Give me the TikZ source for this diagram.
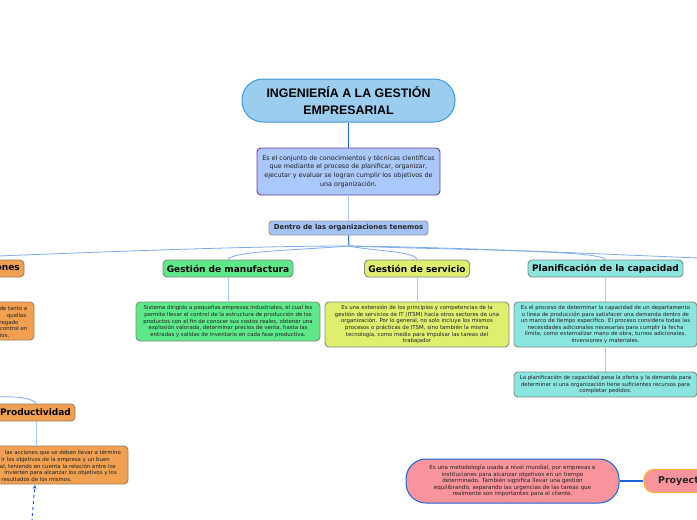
\documentclass[tikz,border=0pt]{standalone}
\usepackage{fontspec}
\usetikzlibrary{arrows.meta}
\setmainfont{DejaVu Sans}
\newfontfamily\titlefont{Liberation Sans}
\definecolor{lineblue}{HTML}{1565D8}
\definecolor{softblue}{HTML}{A9C8F5}
\definecolor{edgegray}{HTML}{7F8F7F}
\definecolor{titlefill}{HTML}{9BCEEE}
\definecolor{titleedge}{HTML}{3E9AD8}
\definecolor{descfill}{HTML}{AAC8FB}
\definecolor{descedge}{HTML}{6A3D9A}
\definecolor{withinfill}{HTML}{A4C2F4}
\definecolor{greenfill}{HTML}{5FE88A}
\definecolor{yellowfill}{HTML}{E0EE70}
\definecolor{tealfill}{HTML}{8BE5DF}
\definecolor{orangefill}{HTML}{F0A050}
\definecolor{orangeedge}{HTML}{9A8060}
\definecolor{pinkfill}{HTML}{F9949C}
\definecolor{projedge}{HTML}{FAB03C}
\definecolor{dashblue}{HTML}{2060F0}
\newcommand{\gapr}[1]{\rule{#1}{0pt}}
\tikzset{
  px/.style={x=1pt,y=-1pt},
  box/.style={draw=#1,line width=0.9pt,rounded corners=4pt,inner sep=0pt},
  body/.style={font=\fontsize{5.4}{6.6}\selectfont,align=center,text=black!88},
  head/.style={font=\fontsize{9}{11}\selectfont\bfseries,text=black},
  softline/.style={draw=softblue,line width=1pt},
  strongline/.style={draw=lineblue,line width=1.4pt},
  branch/.style={draw=softblue!70!lineblue,line width=0.8pt},
}
\begin{document}
\begin{tikzpicture}[px]
\useasboundingbox (0,0) rectangle (697,520);
\clip (0,0) rectangle (697,520);
\fill[white] (0,0) rectangle (697,520);
% coordinates
\coordinate (hub) at (349,246);
\coordinate (leftend) at (-2,256);
\coordinate (rightend) at (699,258);
\coordinate (prodin) at (-2,397);
\coordinate (dashstart) at (32,522);
% nodes
\node[draw=titleedge,line width=1pt,fill=titlefill,rounded corners=21pt,minimum width=213pt,minimum height=43pt,inner sep=0pt,align=center,font=\titlefont\fontsize{12.4}{16.2}\selectfont\bfseries,text=black] (title) at (348.5,100.5) {INGENIERÍA A LA GESTIÓN\\EMPRESARIAL};
\node[box=descedge,fill=descfill,minimum width=183pt,minimum height=47pt,body,font=\fontsize{6.4}{8.8}\selectfont] (desc) at (348.5,171.5) {Es el conjunto de conocimientos y técnicas científicas\\que mediante el proceso de planificar, organizar,\\ejecutar y evaluar se logran cumplir los objetivos de\\una organización.};
\node[box=gray!80,rounded corners=3pt,fill=withinfill,minimum width=159pt,minimum height=14pt,font=\fontsize{6.9}{8}\selectfont\bfseries,text=black!85] (within) at (348.5,228) {Dentro de las organizaciones tenemos};
% manufacture
\node[box=edgegray,fill=greenfill,minimum width=130pt,minimum height=17pt,head] (manu) at (228,268.5) {Gestión de manufactura};
\node[box=edgegray,fill=greenfill,minimum width=184pt,minimum height=39pt,body] (manutext) at (228,321.5) {Sistema dirigido a pequeñas empresas industriales, el cual les\\permite llevar el control de la estructura de producción de los\\productos con el fin de conocer sus costos reales, obtener una\\explosión valorada, determinar precios de venta, hasta las\\entradas y salidas de inventario en cada fase productiva.};
% service
\node[box=edgegray,fill=yellowfill,minimum width=105pt,minimum height=17pt,head] (serv) at (417,268.5) {Gestión de servicio};
\node[box=edgegray,fill=yellowfill,minimum width=184pt,minimum height=45pt,body] (servtext) at (417,324.5) {Es una extensión de los principios y competencias de la\\gestión de servicios de IT (ITSM) hacia otros sectores de una\\organización. Por lo general, no solo incluye los mismos\\procesos o prácticas de ITSM, sino también la misma\\tecnología, como medio para impulsar las tareas del\\trabajador};
% capacity
\node[box=edgegray,fill=tealfill,minimum width=155pt,minimum height=17pt,head] (cap) at (605.5,268.5) {Planificación de la capacidad};
\node[box=edgegray,fill=tealfill,minimum width=183pt,minimum height=45pt,body] (captext) at (605.5,324.5) {Es el proceso de determinar la capacidad de un departamento\\o línea de producción para satisfacer una demanda dentro de\\un marco de tiempo específico. El proceso considera todas las\\necesidades adicionales necesarias para cumplir la fecha\\límite, como externalizar mano de obra, turnos adicionales,\\inversiones y materiales.};
\node[box=edgegray,fill=tealfill,minimum width=183pt,minimum height=25pt,body] (captwo) at (605.5,384.5) {La planificación de capacidad pesa la oferta y la demanda para\\determinar si una organización tiene suficientes recursos para\\completar pedidos.};
% left, cut by the page edge
\node[box=orangeedge,fill=orangefill,minimum width=44pt,minimum height=17pt] (ops) at (2,268.5) {};
\node[head,anchor=east,inner sep=0pt] (opslabel) at (20,268.5) {ones};
\node[box=orangeedge,fill=orangefill,minimum width=64pt,minimum height=38pt] (opstext) at (2,321) {};
\node[body,anchor=east,inner sep=0pt,align=right] (opslines) at (27.5,322) {de tanto a\\quellas\gapr{1pt}\\regado\gapr{9pt}\\control en\\ios.\gapr{18pt}};
\node[box=orangeedge,fill=orangefill,minimum width=85pt,minimum height=17pt] (prod) at (32.5,412.5) {};
\node[head,anchor=east,inner sep=0pt] (prodlabel) at (71,412.5) {Productividad};
\node[box=orangeedge,fill=orangefill,minimum width=148pt,minimum height=38pt] (prodtext) at (54,465) {};
\node[body,anchor=east,inner sep=0pt,align=right] (prodlines) at (121,466) {las acciones que se deben llevar a término\\ir los objetivos de la empresa y un buen\gapr{11pt}\\al, teniendo en cuenta la relación entre los\gapr{5pt}\\invierten para alcanzar los objetivos y los\gapr{4pt}\\resultados de los mismos.\gapr{49pt}};
% project
\node[draw=lineblue,line width=1pt,fill=pinkfill,rounded corners=20pt,minimum width=213pt,minimum height=44pt,inner sep=0pt,align=center,text=black!88,font=\fontsize{5.6}{6.5}\selectfont] (pink) at (512.5,481) {Es una metodología usada a nivel mundial, por empresas e\\instituciones para alcanzar objetivos en un tiempo\\determinado. También significa llevar una gestión\\equilibrando, separando las urgencias de las tareas que\\realmente son importantes para el cliente.};
\node[draw=projedge,line width=1.2pt,fill=pinkfill,rounded corners=10pt,minimum width=75pt,minimum height=23pt] (proj) at (681.5,481) {};
\node[anchor=west,inner sep=0pt,text=black!85,font=\fontsize{9.4}{11}\selectfont\bfseries] (projlabel) at (658,481) {Proyect};
% connectors
\draw[strongline] (title.south) -- (desc.north);
\draw[softline] (desc.south) -- (within.north);
\draw[strongline,line width=1pt] (within.south) -- (hub);
\draw[branch] (hub) .. controls (250,246) and (100,252) .. (leftend);
\draw[branch] (hub) .. controls (300,250) and (232,251) .. (manu.north);
\draw[branch] (hub) .. controls (372,251) and (415,251) .. (serv.north);
\draw[branch] (hub) .. controls (450,250) and (600,250) .. (cap.north);
\draw[branch] (hub) .. controls (450,247) and (600,254) .. (rightend);
\draw[softline] (manu.south) -- (manutext.north);
\draw[softline] (serv.south) -- (servtext.north);
\draw[softline] (cap.south) -- (captext.north);
\draw[softline] (captext.south) -- (captwo.north);
\draw[branch] (prodin) .. controls (15,396) and (33,398) .. (prod.north -| 36,0);
\draw[softline] (36,421) -- (36,446);
\draw[dashblue,line width=1pt,dashed,-{Stealth[length=4pt,width=4pt]}] (dashstart) .. controls (33,505) and (34,495) .. (35,485);
\draw[lineblue,line width=1.6pt] (pink.east) -- (proj.west);
\end{tikzpicture}
\end{document}
